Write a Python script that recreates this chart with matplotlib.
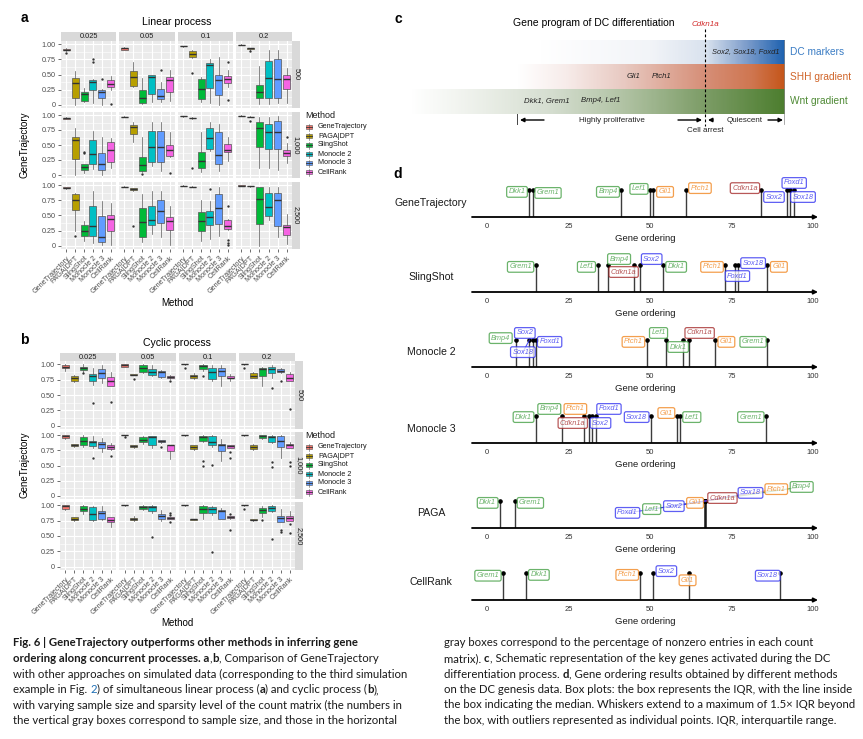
import numpy as np
import matplotlib.pyplot as plt
from matplotlib.patches import Rectangle
from matplotlib.colors import LinearSegmentedColormap

W, H = 863, 739
PANEL_FONT = ["Liberation Sans", "DejaVu Sans"]
CAPTION_FONT = ["Lato", "DejaVu Sans"]
plt.rcParams["font.family"] = PANEL_FONT

# ---------------------------------------------------------------- data a / b
METHODS = ["GeneTrajectory", "PAGA|DPT", "SlingShot", "Monocle 2", "Monocle 3", "CellRank"]
METHOD_COLORS = ["#F8766D", "#B79F00", "#00BA38", "#00BFC4", "#619CFF", "#F564E3"]
SPARSITY = ["0.025", "0.05", "0.1", "0.2"]
SAMPLE_SIZE = ["500", "1,000", "2,500"]

# one row per (sample size, sparsity), one column per method
LIN_LO = [
    [.88, .00, .05, .03, .00, .25], [.90, .30, .02, .05, .05, .06],
    [.95, .77, .05, .03, .00, .29], [.98, .91, .02, .02, .03, .03],
    [.94, .00, .04, .10, .00, .12], [.96, .55, .05, .15, .07, .30],
    [.97, .94, .05, .40, .07, .24], [.98, .96, .12, .12, .09, .20],
    [.94, .24, .08, .05, .02, .02], [.96, .91, .07, .19, .14, .02],
    [.98, .96, .08, .12, .17, .27], [.98, .97, .00, .42, .15, .04],
]
LIN_Q1 = [
    [.90, .12, .06, .24, .12, .29], [.91, .31, .03, .18, .10, .21],
    [.96, .79, .10, .28, .16, .36], [.99, .92, .11, .11, .12, .26],
    [.94, .27, .09, .18, .09, .22], [.97, .69, .07, .21, .21, .32],
    [.98, .95, .12, .43, .19, .38], [.99, .97, .46, .43, .43, .31],
    [.95, .59, .17, .16, .07, .25], [.97, .92, .14, .34, .37, .26],
    [.99, .97, .24, .35, .36, .28], [.99, .98, .36, .49, .33, .18],
]
LIN_MED = [
    [.91, .36, .18, .38, .21, .35], [.93, .46, .12, .46, .14, .41],
    [.96, .84, .27, .65, .41, .43], [.99, .93, .21, .45, .43, .42],
    [.95, .58, .13, .35, .19, .42], [.97, .80, .17, .46, .46, .42],
    [.98, .95, .23, .62, .34, .42], [.99, .97, .78, .71, .71, .37],
    [.95, .76, .24, .32, .14, .44], [.97, .94, .40, .42, .57, .41],
    [.99, .97, .41, .48, .62, .32], [.99, .98, .77, .64, .75, .31],
]
LIN_Q3 = [
    [.92, .44, .21, .41, .25, .41], [.94, .56, .24, .49, .26, .46],
    [.97, .89, .42, .69, .49, .48], [.99, .94, .33, .72, .76, .50],
    [.95, .63, .18, .59, .36, .55], [.97, .84, .30, .73, .73, .50],
    [.98, .95, .38, .79, .71, .52], [.99, .97, .89, .85, .90, .42],
    [.96, .86, .34, .66, .49, .51], [.97, .95, .62, .66, .75, .48],
    [.99, .97, .56, .57, .85, .42], [1.0, .98, .96, .87, .87, .35],
]
LIN_HI = [
    [.93, .56, .28, .42, .26, .48], [.95, .70, .45, .50, .37, .58],
    [.97, .90, .46, .75, .78, .57], [1.0, .94, .64, .91, .91, .60],
    [.96, .79, .19, .74, .63, .61], [.98, .88, .63, .88, .88, .72],
    [.99, .96, .71, .89, .85, .64], [1.0, .98, .97, .97, .99, .54],
    [.96, .87, .41, .91, .73, .71], [.98, .95, .85, .90, .90, .65],
    [1.0, .98, .76, .74, .97, .44], [1.0, .99, .97, .96, .96, .53],
]
# (sample size row, sparsity column, method, value)
LIN_OUT = [
    (0, 0, 0, .85), (0, 0, 3, .71), (0, 0, 3, .75), (0, 0, 4, .43), (0, 0, 5, .02),
    (0, 1, 4, .58), (0, 2, 1, .52), (0, 2, 5, .70), (0, 2, 5, .08), (0, 3, 1, .89),
    (1, 0, 2, .36), (1, 0, 2, .39), (1, 1, 2, .01), (1, 1, 5, .03), (1, 2, 1, .11),
    (1, 3, 1, .90), (1, 3, 5, .64), (2, 0, 1, .17), (2, 1, 1, .32), (2, 2, 3, .94),
    (2, 2, 5, .66), (2, 2, 5, .10), (2, 2, 5, .05), (2, 2, 5, .02),
]

CYC_LO = [
    [.89, .71, .88, .66, .69, .64], [.96, .82, .85, .80, .77, .76],
    [.99, .76, .89, .73, .64, .73], [.99, .77, .64, .78, .86, .72],
    [.94, .81, .81, .78, .72, .76], [.99, .79, .86, .78, .87, .61],
    [.99, .76, .88, .80, .58, .78], [.99, .76, .94, .87, .62, .78],
    [.92, .75, .85, .74, .76, .65], [.99, .75, .92, .88, .75, .78],
    [.99, .76, .77, .84, .77, .78], [.99, .75, .80, .89, .73, .75],
]
CYC_Q1 = [
    [.93, .72, .91, .73, .77, .64], [.96, .82, .88, .83, .79, .77],
    [1.0, .78, .92, .76, .81, .77], [1.0, .78, .80, .85, .87, .72],
    [.95, .82, .84, .82, .78, .77], [1.0, .80, .88, .84, .88, .73],
    [1.0, .77, .91, .84, .73, .79], [1.0, .77, .95, .88, .81, .78],
    [.93, .76, .90, .76, .77, .72], [1.0, .76, .93, .90, .77, .78],
    [1.0, .76, .88, .88, .77, .79], [1.0, .76, .88, .91, .73, .75],
]
CYC_MED = [
    [.96, .77, .94, .80, .85, .72], [.98, .83, .93, .88, .87, .79],
    [1.0, .81, .97, .88, .89, .78], [1.0, .81, .92, .92, .89, .78],
    [.98, .84, .91, .88, .85, .81], [1.0, .82, .92, .96, .90, .83],
    [1.0, .80, .97, .89, .83, .82], [1.0, .81, .98, .96, .90, .83],
    [.99, .78, .93, .86, .88, .76], [1.0, .78, .97, .97, .82, .79],
    [1.0, .77, .93, .93, .90, .80], [1.0, .76, .92, .95, .79, .79],
]
CYC_Q3 = [
    [.98, .80, .96, .84, .92, .79], [1.0, .84, .98, .92, .89, .81],
    [1.0, .82, .99, .93, .94, .80], [1.0, .85, .93, .96, .92, .84],
    [1.0, .86, .96, .90, .88, .84], [1.0, .84, .96, .98, .92, .84],
    [1.0, .83, .99, .98, .86, .84], [1.0, .84, 1.0, .99, .98, .86],
    [1.0, .80, .99, .97, .91, .80], [1.0, .79, .99, .99, .86, .80],
    [1.0, .77, .98, .97, .92, .83], [1.0, .77, .95, .99, .83, .82],
]
CYC_HI = [
    [1.0, .82, 1.0, .93, .98, .88], [1.0, .84, 1.0, .98, .91, .82],
    [1.0, .86, 1.0, .98, .98, .84], [1.0, .88, .95, .99, .93, .88],
    [1.0, .86, 1.0, .99, .95, .87], [1.0, .84, .98, .99, .92, .84],
    [1.0, .84, 1.0, 1.0, .94, .84], [1.0, .86, 1.0, 1.0, 1.0, .88],
    [1.0, .80, 1.0, .99, .99, .81], [1.0, .83, 1.0, 1.0, .92, .80],
    [1.0, .78, 1.0, .98, .95, .83], [1.0, .77, .99, 1.0, .93, .90],
]
CYC_OUT = [
    (0, 0, 2, .85), (0, 0, 3, .37), (0, 0, 5, .39), (0, 1, 1, .76), (0, 1, 5, .72),
    (0, 2, 0, .94), (0, 2, 2, .80), (0, 3, 0, .94), (0, 3, 3, .62), (0, 3, 4, .73),
    (0, 3, 5, .28), (1, 0, 3, .62), (1, 0, 5, .66), (1, 1, 0, .96), (1, 1, 4, .80),
    (1, 2, 2, .58), (1, 2, 2, .49), (1, 2, 3, .51), (1, 2, 5, .72), (1, 2, 5, .62),
    (1, 3, 3, .56), (1, 3, 3, .47), (1, 3, 5, .56), (1, 3, 5, .49), (2, 1, 3, .49),
    (2, 1, 5, .87), (2, 1, 5, .84), (2, 1, 5, .73), (2, 2, 3, .24), (2, 2, 5, .85),
    (2, 2, 5, .59), (2, 3, 0, .94), (2, 3, 2, .76), (2, 3, 3, .45), (2, 3, 4, .60),
    (2, 3, 4, .57), (2, 3, 5, .70), (2, 3, 5, .55),
]

# ---------------------------------------------------------------- data d
D_METHODS = ["GeneTrajectory", "SlingShot", "Monocle 2", "Monocle 3", "PAGA", "CellRank"]
D_GENES = ["Dkk1", "Grem1", "Bmp4", "Lef1", "Gli1", "Ptch1", "Cdkn1a", "Sox2", "Sox18", "Foxd1"]
GENE_GROUP = ["Wnt", "Wnt", "Wnt", "Wnt", "SHH", "SHH", "arrest", "DC", "DC", "DC"]
ORDER_GT = [13, 14, 41, 50, 51, 61, 84, 93, 94, 92]
ORDER_SLINGSHOT = [54, 15, 37, 34, 86, 73, 45, 47, 77, 76]
ORDER_MONOCLE2 = [60, 86, 9, 55, 70, 49, 62, 14, 13, 15]
ORDER_MONOCLE3 = [15, 85.5, 23, 59.3, 58.3, 29.7, 31.2, 32.2, 50.3, 33.3]
ORDER_PAGA = [4, 8.6, 67, 67, 67, 67, 67, 67, 67, 67]
ORDER_CELLRANK = [12, 5, np.nan, np.nan, 62, 47, np.nan, 51, 90, np.nan]
D_ORDERS = [ORDER_GT, ORDER_SLINGSHOT, ORDER_MONOCLE2, ORDER_MONOCLE3, ORDER_PAGA, ORDER_CELLRANK]

# ---------------------------------------------------------------- layout / style
GROUP_COLORS = {"Wnt": "#3a9a3a", "SHH": "#f07f12", "DC": "#2a2af0", "arrest": "#a02020"}
# label placement (gene ordering, stem height) in the gene order above
LABEL_XY = [
    [(9.2, .93), (18.7, .89), (37.1, .93), (46.6, 1.04), (54.6, .93), (65.3, 1.07),
     (79.1, 1.07), (88.0, .74), (96.9, .74), (94.2, 1.26)],
    [(58.0, .93), (10.3, .93), (40.5, 1.22), (30.5, .93), (89.5, .93), (69.0, .93),
     (41.9, .74), (50.5, 1.22), (81.6, 1.07), (76.8, .59)],
    [(58.6, .74), (81.6, .93), (4.2, 1.07), (52.6, 1.26), (73.4, .93), (44.9, .93),
     (65.2, 1.26), (11.6, 1.26), (11.0, .55), (19.2, .93)],
    [(11.2, .96), (80.9, .96), (19.1, 1.26), (62.8, .96), (55.0, 1.11), (27.1, 1.26),
     (26.3, .74), (34.8, .74), (45.9, .96), (37.4, 1.26)],
    [(0.2, .93), (13.3, .93), (96.5, 1.52), (50.5, .70), (63.8, .93), (88.7, 1.44),
     (72.2, 1.11), (57.3, .81), (80.8, 1.30), (43.1, .56)],
    [(15.9, .93), (0.3, .90), None, None, (61.5, .73), (43.0, .93), None,
     (55.0, 1.07), (86.1, .90), None],
]
D_AXIS_Y = [217, 292, 367, 443, 528, 600]

fig = plt.figure(figsize=(W / 100, H / 100), dpi=100, facecolor="white")
cv = fig.add_axes([0, 0, 1, 1])
cv.axis("off")
renderer = fig.canvas.get_renderer()


def px_rect(x0, y0, x1, y1):
    return [x0 / W, 1 - y1 / H, (x1 - x0) / W, (y1 - y0) / H]


def facet_grid(cols, rows, strip_y, strip_x, stats, outliers):
    lo, q1, med, q3, hi = (np.array(s).reshape(3, 4, 6) for s in stats)
    for c, (xa, xb) in enumerate(cols):
        cv.add_patch(Rectangle((xa, strip_y[0]), xb - xa, strip_y[1] - strip_y[0],
                               fc="#d9d9d9", ec="none"))
        cv.text((xa + xb) / 2, sum(strip_y) / 2 + 0.5, SPARSITY[c], ha="center",
                va="center", fontsize=5.3, color="#1a1a1a")
    for r, (ya, yb) in enumerate(rows):
        cv.add_patch(Rectangle((strip_x[0], ya), strip_x[1] - strip_x[0], yb - ya,
                               fc="#d9d9d9", ec="none"))
        cv.text(sum(strip_x) / 2, (ya + yb) / 2, SAMPLE_SIZE[r], ha="center",
                va="center", rotation=-90, fontsize=5.3, color="#1a1a1a")
        for c, (xa, xb) in enumerate(cols):
            ax = fig.add_axes(px_rect(xa, ya, xb, yb))
            ax.set_facecolor("#ebebeb")
            bstats = []
            for m in range(6):
                fl = [v for (rr, cc, mm, v) in outliers if (rr, cc, mm) == (r, c, m)]
                bstats.append(dict(whislo=lo[r, c, m], q1=q1[r, c, m], med=med[r, c, m],
                                   q3=q3[r, c, m], whishi=hi[r, c, m], fliers=fl))
            parts = ax.bxp(bstats, positions=range(1, 7), widths=0.8, patch_artist=True,
                           showcaps=False, manage_ticks=False,
                           boxprops=dict(lw=0.5, ec="#555555"),
                           medianprops=dict(color="#333333", lw=1.0),
                           whiskerprops=dict(color="#555555", lw=0.5),
                           flierprops=dict(marker="o", ms=1.7, mfc="#333333", mec="none"))
            for patch, col in zip(parts["boxes"], METHOD_COLORS):
                patch.set_facecolor(col)
            ax.set_xlim(0.4, 6.6)
            ax.set_ylim(-0.05, 1.05)
            ax.set_xticks(range(1, 7))
            ax.set_yticks([0, .25, .5, .75, 1])
            ax.set_yticks([.125, .375, .625, .875], minor=True)
            ax.grid(which="major", color="white", lw=0.8)
            ax.grid(which="minor", axis="y", color="white", lw=0.4)
            ax.set_axisbelow(True)
            for s in ax.spines.values():
                s.set_visible(False)
            ax.tick_params(which="minor", length=0)
            ax.tick_params(which="major", length=2.5, width=0.5, color="#333333",
                           labelsize=5.2, labelcolor="#4d4d4d", pad=1.5)
            if c == 0:
                ax.set_yticklabels(["0", "0.25", "0.50", "0.75", "1.00"])
            else:
                ax.tick_params(axis="y", length=0, labelleft=False)
            if r == 2:
                ax.set_xticklabels(METHODS, rotation=45, ha="right", rotation_mode="anchor")
            else:
                ax.tick_params(axis="x", length=0, labelbottom=False)


def legend(x, y):
    cv.text(x - 1, y, "Method", fontsize=6.5, va="center", color="#1a1a1a")
    for i, (m, col) in enumerate(zip(METHODS, METHOD_COLORS)):
        yy = y + 11 + i * 9
        cv.plot([x + 3, x + 3], [yy - 3.5, yy + 3.5], color="#555555", lw=0.4)
        cv.add_patch(Rectangle((x, yy - 2.3), 6, 4.6, fc=col, ec="#555555", lw=0.4))
        cv.plot([x, x + 6], [yy, yy], color="#333333", lw=0.6)
        cv.text(x + 12, yy, m, fontsize=5.2, va="center", color="#1a1a1a")


# ---------------------------------------------------------------- panel a
cv.text(24, 18, "a", fontsize=10, fontweight="bold", ha="center", va="center")
cv.text(177, 22, "Linear process", fontsize=7.6, ha="center", va="center")
facet_grid([(61, 116), (119, 175), (178, 233), (236, 292)],
           [(41, 108), (112, 178), (182, 249)], (32, 41), (292, 300),
           (LIN_LO, LIN_Q1, LIN_MED, LIN_Q3, LIN_HI), LIN_OUT)
cv.text(24, 145, "GeneTrajectory", fontsize=7, rotation=90, ha="center", va="center")
cv.text(177, 303, "Method", fontsize=7, ha="center", va="center")
legend(306, 116)

# ---------------------------------------------------------------- panel b
cv.text(24, 340, "b", fontsize=10, fontweight="bold", ha="center", va="center")
cv.text(177, 343, "Cyclic process", fontsize=7.6, ha="center", va="center")
facet_grid([(60, 116), (119, 176), (179, 236), (239, 295)],
           [(361, 429), (432, 499), (502, 570)], (353, 361), (295, 303),
           (CYC_LO, CYC_Q1, CYC_MED, CYC_Q3, CYC_HI), CYC_OUT)
cv.text(24, 465, "GeneTrajectory", fontsize=7, rotation=90, ha="center", va="center")
cv.text(177, 623, "Method", fontsize=7, ha="center", va="center")
legend(306, 436)


# ---------------------------------------------------------------- panel c
def gradient_band(x0, x1, y0, y1, stops):
    cmap = LinearSegmentedColormap.from_list("band", stops)
    rgba = cmap(np.linspace(0, 1, 300))[None, :, :]
    cv.imshow(rgba, extent=(x0, x1, y1, y0), aspect="auto", interpolation="bilinear")


cv.text(398, 19, "c", fontsize=10, fontweight="bold", ha="center", va="center")
cv.text(594, 23, "Gene program of DC differentiation", fontsize=7.5, ha="center", va="center")
gradient_band(540, 784, 40, 64, [(0, "#ffffff"), (.45, "#f2f4f8"), (.68, "#d9e2ee"),
                                 (.84, "#809fcc"), (1, "#1f62b0")])
gradient_band(517, 784, 64, 89, [(0, "#ffffff"), (.18, "#f7ecea"), (.4, "#e8c9c1"),
                                 (.7, "#d68f78"), (.88, "#cf7650"), (1, "#c5561a")])
gradient_band(410, 784, 89, 114, [(0, "#ffffff"), (.2, "#eaeee7"), (.38, "#d4ddcf"),
                                  (.57, "#b1c3a4"), (.79, "#7c9c66"), (1, "#4d7e2f")])
cv.text(746, 52, "Sox2, Sox18, Foxd1", fontsize=5.4, style="italic", ha="center",
        va="center", color="#222222")
cv.text(633, 77, "Gli1", fontsize=5.6, style="italic", ha="center", va="center", color="#222222")
cv.text(662, 77, "Ptch1", fontsize=5.6, style="italic", ha="center", va="center", color="#222222")
cv.text(547, 101, "Dkk1, Grem1", fontsize=5.6, style="italic", ha="center", va="center",
        color="#222222")
cv.text(601, 101, "Bmp4, Lef1", fontsize=5.6, style="italic", ha="center", va="center",
        color="#222222")
cv.text(790, 52, "DC markers", fontsize=7.3, va="center", color="#3a7cc4")
cv.text(790, 77, "SHH gradient", fontsize=7.3, va="center", color="#d0652a")
cv.text(790, 101, "Wnt gradient", fontsize=7.3, va="center", color="#4f8a35")
cv.plot([705, 705], [29, 126], color="black", lw=0.8, ls=(0, (2.5, 2)))
cv.text(705, 24, "Cdkn1a", fontsize=5.8, style="italic", ha="center", va="center",
        color="#d22a2a")
cv.plot([517, 517], [114, 124], color="#444444", lw=0.7)
cv.plot([784, 784], [40, 124], color="#888888", lw=0.5)
arrow = dict(arrowstyle="-|>", lw=1.0, color="black", mutation_scale=6, shrinkA=0, shrinkB=0)
cv.annotate("", xy=(520, 120), xytext=(544, 120), arrowprops=arrow)
cv.annotate("", xy=(702, 120), xytext=(678, 120), arrowprops=arrow)
cv.annotate("", xy=(708, 120), xytext=(713, 120), arrowprops=arrow)
cv.annotate("", xy=(783, 120), xytext=(768, 120), arrowprops=arrow)
cv.text(612, 120, "Highly proliferative", fontsize=5.8, ha="center", va="center", color="#222222")
cv.text(745, 120, "Quiescent", fontsize=5.8, ha="center", va="center", color="#222222")
cv.text(705, 130, "Cell arrest", fontsize=5.8, ha="center", va="center", color="#222222")

# ---------------------------------------------------------------- panel d
cv.text(398, 174, "d", fontsize=10, fontweight="bold", ha="center", va="center")
XMIN, XMAX = -4.6, 101.5
for i, method in enumerate(D_METHODS):
    ya = D_AXIS_Y[i]
    ax = fig.add_axes(px_rect(472, ya - 50, 818, ya))
    ax.patch.set_visible(False)
    for s in ax.spines.values():
        s.set_visible(False)
    ax.set_xlim(XMIN, XMAX)
    ax.set_ylim(0, 50 / 27)
    ax.set_yticks([])
    ax.set_xticks([0, 25, 50, 75, 100])
    ax.tick_params(axis="x", length=0, pad=4, labelsize=5.5, labelcolor="#333333")
    ax.set_xlabel("Gene ordering", fontsize=6.8, labelpad=3, color="#1a1a1a")
    ax.annotate("", xy=(XMAX, 0), xytext=(XMIN, 0), annotation_clip=False,
                arrowprops=dict(arrowstyle="-|>", lw=1.3, color="black",
                                mutation_scale=6, shrinkA=0, shrinkB=0))
    order = np.array(D_ORDERS[i], dtype=float)
    ok = ~np.isnan(order)
    ax.vlines(order[ok], 0, 1, color="#1a1a1a", lw=1.0, alpha=0.85)
    ax.plot(order[ok], np.ones(ok.sum()), "o", ms=2.3, color="black", clip_on=False)
    for g, gene in enumerate(D_GENES):
        if not ok[g]:
            continue
        lx, ly = LABEL_XY[i][g]
        col = GROUP_COLORS[GENE_GROUP[g]]
        if (method == "PAGA" and order[g] > 60) or (method == "Monocle 2" and gene == "Sox18"):
            ax.plot([lx, order[g]], [ly, 1], color=col, lw=0.8, alpha=0.8, zorder=2)
        ax.text(lx, ly, gene, fontsize=5.3, style="italic", ha="center", va="center",
                color=col, alpha=0.75, zorder=3,
                bbox=dict(boxstyle="round,pad=0.25,rounding_size=0.25", fc="white",
                          ec=col, lw=0.9, alpha=0.75))
    cv.text(431, [203, 277, 352, 429, 513, 582][i], method, fontsize=7.6,
            ha="center", va="center", color="#1a1a1a")


# ---------------------------------------------------------------- caption
def text_width(s, size, weight):
    t = cv.text(0, 0, s + "|", fontsize=size, fontweight=weight, family=CAPTION_FONT)
    b = cv.text(0, 0, "|", fontsize=size, fontweight=weight, family=CAPTION_FONT)
    w = t.get_window_extent(renderer).width - b.get_window_extent(renderer).width
    t.remove()
    b.remove()
    return w


def draw_runs(x, y, runs, size):
    for s, weight, color in runs:
        cv.text(x, y, s, fontsize=size, fontweight=weight, color=color,
                family=CAPTION_FONT, ha="left", va="baseline")
        x += text_width(s, size, weight)


N, B, K, BL = "normal", "bold", "#1a1a1a", "#1f6fb5"
LEFT = [
    [("Fig. 6 | GeneTrajectory outperforms other methods in inferring gene", B, K)],
    [("ordering along concurrent processes. a", B, K), (",", N, K), ("b", B, K),
     (", Comparison of GeneTrajectory", N, K)],
    [("with other approaches on simulated data (corresponding to the third simulation", N, K)],
    [("example in Fig. ", N, K), ("2", N, BL), (") of simultaneous linear process (", N, K),
     ("a", B, K), (") and cyclic process (", N, K), ("b", B, K), ("),", N, K)],
    [("with varying sample size and sparsity level of the count matrix (the numbers in", N, K)],
    [("the vertical gray boxes correspond to sample size, and those in the horizontal", N, K)],
]
RIGHT = [
    [("gray boxes correspond to the percentage of nonzero entries in each count", N, K)],
    [("matrix). ", N, K), ("c", B, K),
     (", Schematic representation of the key genes activated during the DC", N, K)],
    [("differentiation process. ", N, K), ("d", B, K),
     (", Gene ordering results obtained by different methods", N, K)],
    [("on the DC genesis data. Box plots: the box represents the IQR, with the line inside", N, K)],
    [("the box indicating the median. Whiskers extend to a maximum of 1.5\u00d7 IQR beyond", N, K)],
    [("the box, with outliers represented as individual points. IQR, interquartile range.", N, K)],
]


def line_width(runs, size):
    return sum(text_width(s, size, w) for s, w, _ in runs)


fit_left = 10 * 410 / max(line_width(r, 10) for r in LEFT)
fit_right = 10 * 413 / max(line_width(r, 10) for r in RIGHT)
cap_size = min(fit_left, fit_right)
for k, runs in enumerate(LEFT):
    draw_runs(13, 646.5 + 15.6 * k, runs, cap_size)
for k, runs in enumerate(RIGHT):
    draw_runs(444, 646.5 + 15.5 * k, runs, cap_size)

cv.set_xlim(0, W)
cv.set_ylim(H, 0)
fig.savefig("out.png", dpi=100)
